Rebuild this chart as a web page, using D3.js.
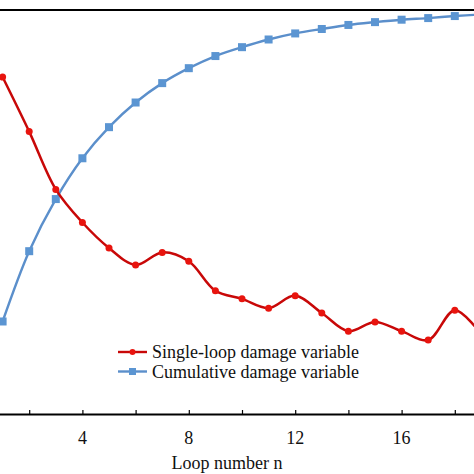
<!DOCTYPE html>
<html lang="en">

<head>
    <meta charset="UTF-8" />
    <title>Damage variable</title>
    <style>
        body { margin: 0; background: #fff; }
        #container { width: 474px; height: 474px; overflow: hidden; }
        text { font-family: "Liberation Serif", "Times New Roman", serif; fill: #111; }
    </style>
</head>

<body>
    <div id="container"></div>
</body>
<script src="https://cdnjs.cloudflare.com/ajax/libs/d3/7.1.1/d3.min.js"></script>
<script>
    // 資料
    const loops = [1, 2, 3, 4, 5, 6, 7, 8, 9, 10, 11, 12, 13, 14, 15, 16, 17, 18, 19]
    const singleLoop = [0.0834, 0.0699, 0.0556, 0.0474, 0.0411, 0.0369, 0.0400, 0.0378, 0.0305, 0.0285,
        0.0262, 0.0293, 0.0250, 0.0205, 0.0228, 0.0205, 0.0183, 0.0257, 0.0196]
    const cumulative = [0.229, 0.403, 0.532, 0.633, 0.710, 0.771, 0.819, 0.856, 0.886, 0.908,
        0.927, 0.942, 0.953, 0.963, 0.970, 0.976, 0.980, 0.985, 0.989]
    const xTicks = [0, 2, 4, 6, 8, 10, 12, 14, 16, 18, 20]
    const xLabels = [4, 8, 12, 16]

    let width = 474, height = 474
    let plotTop = 10, plotBottom = 414

    let svg = d3.select('#container').append('svg').attr('width', width).attr('height', height)

    // 比例尺 (plot area is cropped on both sides)
    let x = d3.scaleLinear().domain([0, 20]).range([-24, 508])
    let yS = d3.scaleLinear().domain([0, 0.1]).range([plotBottom, plotTop])
    let yC = d3.scaleLinear().domain([0, 1]).range([plotBottom, plotTop])

    // frame top line
    svg.append('line').attr('x1', 0).attr('x2', width).attr('y1', plotTop).attr('y2', plotTop)
        .attr('stroke', '#000').attr('stroke-width', 2.2)

    // x axis
    let xAxis = d3.axisBottom(x).tickValues(xTicks).tickSizeInner(-4).tickSizeOuter(0).tickFormat('')
    let gx = svg.append('g').attr('transform', `translate(0,${plotBottom})`).call(xAxis)
    gx.select('.domain').attr('stroke', '#000').attr('stroke-width', 2.2)
    gx.selectAll('.tick line').attr('stroke', '#000').attr('stroke-width', 1.2)
    svg.selectAll('.xlab').data(xLabels).enter().append('text')
        .attr('x', d => x(d)).attr('y', 444)
        .attr('text-anchor', 'middle').style('font-size', '18px').text(d => d)
    svg.append('text').attr('x', 227).attr('y', 469).attr('text-anchor', 'middle')
        .style('font-size', '18px').text('Loop number n')

    // lines
    let lineS = d3.line().x((d, i) => x(loops[i])).y(d => yS(d)).curve(d3.curveCatmullRom)
    let lineC = d3.line().x((d, i) => x(loops[i])).y(d => yC(d)).curve(d3.curveCatmullRom)

    svg.append('path').datum(cumulative).attr('d', lineC)
        .attr('fill', 'none').attr('stroke', '#5b8fcb').attr('stroke-width', 2.4)
    svg.selectAll('.sq').data(cumulative).enter().append('rect')
        .attr('x', (d, i) => x(loops[i]) - 4).attr('y', d => yC(d) - 4)
        .attr('width', 8).attr('height', 8).attr('fill', '#5b95d2')

    svg.append('path').datum(singleLoop).attr('d', lineS)
        .attr('fill', 'none').attr('stroke', '#c80808').attr('stroke-width', 2.5)
    svg.selectAll('.dot').data(singleLoop).enter().append('circle')
        .attr('cx', (d, i) => x(loops[i])).attr('cy', d => yS(d))
        .attr('r', 3.5).attr('fill', '#e8140e')

    // legend
    let legend = [
        { name: 'Single-loop damage variable', color: '#c80808', mark: '#e8140e', type: 'c' },
        { name: 'Cumulative damage variable', color: '#5b8fcb', mark: '#5b95d2', type: 's' }
    ]
    let lg = svg.selectAll('.lg').data(legend).enter().append('g')
        .attr('transform', (d, i) => `translate(118,${352 + i * 19.5})`)
    lg.append('line').attr('x1', 0).attr('x2', 29).attr('stroke', d => d.color).attr('stroke-width', 2.4)
    lg.filter(d => d.type == 'c').append('circle').attr('cx', 14.5).attr('r', 3).attr('fill', d => d.mark)
    lg.filter(d => d.type == 's').append('rect').attr('x', 11).attr('y', -3.5)
        .attr('width', 7).attr('height', 7).attr('fill', d => d.mark)
    lg.append('text').attr('x', 34).attr('dy', 6).style('font-size', '18px').text(d => d.name)
</script>

</html>
